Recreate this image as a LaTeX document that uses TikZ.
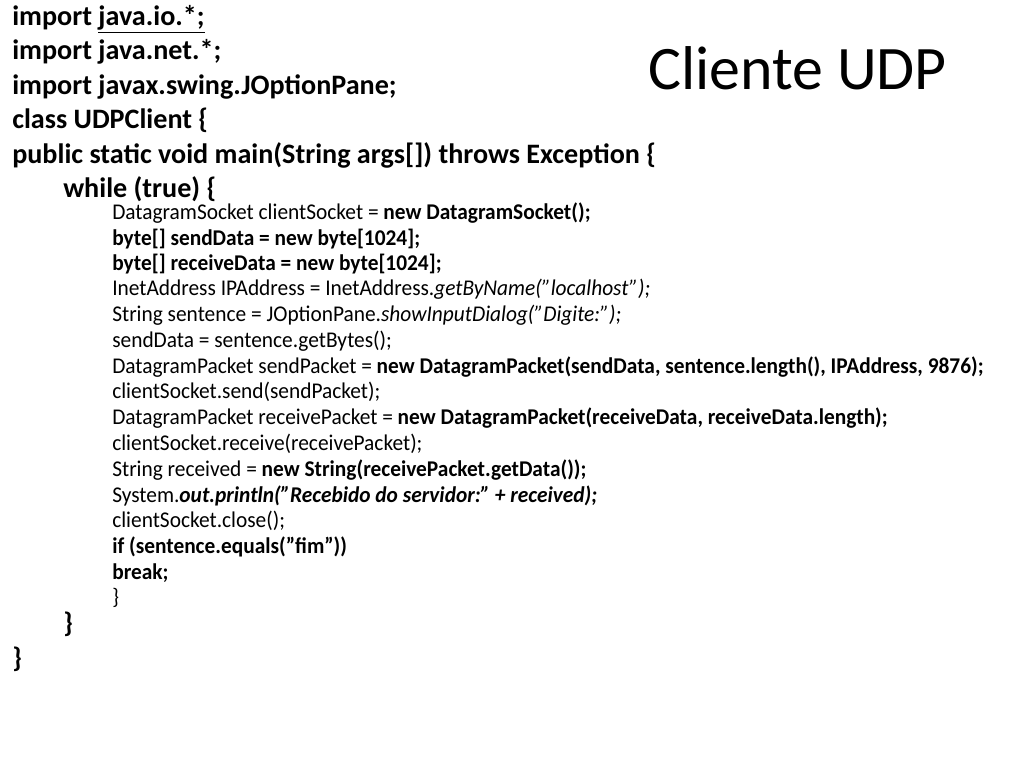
\documentclass[tikz,border=0pt]{standalone}
\usepackage{fontspec}
\setmainfont{Carlito}
\usetikzlibrary{positioning}

\begin{document}
\begin{tikzpicture}[
    x = 0.025cm, y = -0.025cm, % pixel grid of the slide
    big/.style = {anchor=base west, inner sep=0pt, font=\fontsize{20}{24}\selectfont\bfseries},
    code/.style = {anchor=base west, inner sep=0pt, font=\fontsize{16}{18}\selectfont},
    title/.style = {anchor=base west, inner sep=0pt, font=\fontsize{44}{52}\selectfont}
    ]
    \newcommand{\sq}[1]{\scalebox{0.95}[1]{#1}}
    \newcommand{\qt}{\symbol{34}}
    \useasboundingbox (0,0) rectangle (1024,768);

    \node[title] (ttl) at (648,90) {Cliente UDP};

    \node[big] (imp1) at (12,26) {import \underline{java.io.*;}};
    \node[big] (imp2) at (12,60) {import java.net.*;};
    \node[big] (imp3) at (12,95) {import javax.swing.JOptionPane;};
    \node[big] (cls) at (12,129) {class UDPClient \{};
    \node[big] (mn) at (12,163) {public static void main(String args[]) throws Exception \{};
    \node[big] (wh) at (63,197) {while (true) \{};

    % body of the loop
    \node[code] (l1) at (112,219) {\sq{DatagramSocket clientSocket = \textbf{new DatagramSocket();}}};
    \node[code] (l2) at (112,245) {\sq{\textbf{byte[] sendData = new byte[1024];}}};
    \node[code] (l3) at (112,270) {\sq{\textbf{byte[] receiveData = new byte[1024];}}};
    \node[code] (l4) at (112,295) {\sq{InetAddress IPAddress = InetAddress.\textit{getByName(\qt localhost\qt);}}};
    \node[code] (l5) at (112,321) {\sq{String sentence = JOptionPane.\textit{showInputDialog(\qt Digite:\qt);}}};
    \node[code] (l6) at (112,347) {\sq{sendData = sentence.getBytes();}};
    \node[code] (l7) at (112,373) {\sq{DatagramPacket sendPacket = \textbf{new DatagramPacket(sendData, sentence.length(), IPAddress, 9876);}}};
    \node[code] (l8) at (112,398) {\sq{clientSocket.send(sendPacket);}};
    \node[code] (l9) at (112,424) {\sq{DatagramPacket receivePacket = \textbf{new DatagramPacket(receiveData, receiveData.length);}}};
    \node[code] (l10) at (112,450) {\sq{clientSocket.receive(receivePacket);}};
    \node[code] (l11) at (112,476) {\sq{String received = \textbf{new String(receivePacket.getData());}}};
    \node[code] (l12) at (112,502) {\sq{System.\textbf{\textit{out.println(\qt Recebido do servidor:\qt{} + received);}}}};
    \node[code] (l13) at (112,527) {\sq{clientSocket.close();}};
    \node[code] (l14) at (112,553) {\sq{\textbf{if (sentence.equals(\qt fim\qt))}}};
    \node[code] (l15) at (112,579) {\sq{\textbf{break;}}};
    \node[code] (l16) at (112,604) {\sq{\}}};

    \node[big] (cl1) at (63,632) {\}};
    \node[big] (cl2) at (12,667) {\}};
\end{tikzpicture}
\end{document}
